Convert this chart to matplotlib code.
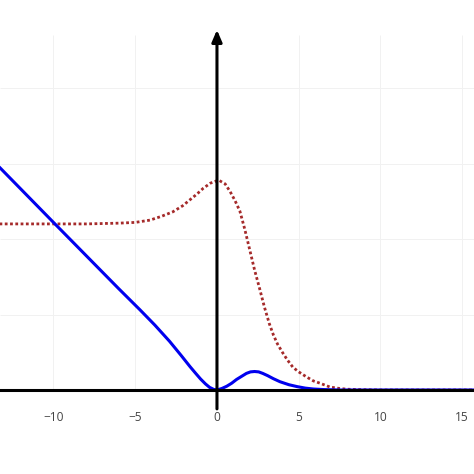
import matplotlib
matplotlib.use('Agg')
import matplotlib.pyplot as plt

# blue curve
x_blue = [-13.3, -10, -8, -6, -4.7, -3.8, -2.9, -2.2, -1.65, -1.3, -1.0, -0.7, -0.45, -0.2, 0,
          0.3, 0.6, 0.9, 1.2, 1.5, 1.8, 2.05, 2.3, 2.55, 2.8, 3.1, 3.45, 3.85, 4.4, 4.9, 5.4, 5.9,
          6.5, 7.5, 9, 12, 16]
y_blue = [2.95, 2.22, 1.78, 1.34, 1.06, 0.86, 0.645, 0.46, 0.31, 0.22, 0.145, 0.08, 0.035, 0.008, 0.0,
          0.02, 0.05, 0.09, 0.14, 0.18, 0.22, 0.24, 0.245, 0.24, 0.22, 0.19, 0.15, 0.11, 0.07, 0.045, 0.025, 0.013,
          0.006, 0.0, 0.0, 0.0, 0.0]

# red dotted curve
x_red = [-13.3, -10, -8, -6, -5, -4.1, -3.4, -2.7, -2.1, -1.65, -1.2, -0.85, -0.4, 0.1,
         0.5, 0.8, 1.1, 1.4, 1.7, 2.0, 2.3, 2.6, 2.9, 3.2, 3.45, 3.7, 4.0, 4.3, 4.65, 5.0, 5.5, 5.9,
         6.3, 6.9, 7.5, 8.0, 9, 10, 12, 16]
y_red = [2.2, 2.2, 2.2, 2.21, 2.22, 2.25, 2.3, 2.36, 2.44, 2.52, 2.6, 2.67, 2.74, 2.78,
         2.73, 2.63, 2.51, 2.37, 2.13, 1.86, 1.59, 1.35, 1.10, 0.88, 0.73, 0.61, 0.50, 0.40, 0.30, 0.24, 0.17, 0.12,
         0.09, 0.04, 0.02, 0.01, 0.004, 0.0, 0.0, 0.0]

x_ticks = [-10, -5, 0, 5, 10, 15]
x_grid = [-10, -5, 5, 10, 15]
y_grid = [1, 2, 3, 4]

fig = plt.figure(figsize=(4.74, 4.74), dpi=100)
ax = fig.add_axes([0, 84 / 474, 1, 390 / 474])
ax.set_xlim(-13.27, 15.72)
ax.set_ylim(0, 5.166)
for s in ax.spines.values():
    s.set_visible(False)

ax.vlines(x_grid, 0, 4.70, colors='#f1f1f1', lw=0.7, zorder=0)
ax.hlines(y_grid, -13.27, 15.72, colors='#f1f1f1', lw=0.7, zorder=0)

ax.plot(x_red, y_red, color='#a52a2a', lw=2.0, linestyle=(0, (1.0, 0.9)), clip_on=False, zorder=3)
ax.plot(x_blue, y_blue, color='#0000ee', lw=2.2, clip_on=False, zorder=4)

# axes lines
ax.axhline(0, color='black', lw=2.2, clip_on=False, zorder=5)
ax.annotate('', xy=(0, 4.77), xytext=(0, -0.25),
            arrowprops=dict(arrowstyle='-|>,head_length=0.7,head_width=0.3', color='black', lw=2.2,
                            shrinkA=0, shrinkB=0),
            annotation_clip=False, zorder=5)

ax.set_xticks(x_ticks)
ax.set_xticklabels(['\u221210', '\u22125', '0', '5', '10', '15'])
ax.tick_params(axis='x', length=0, pad=15, labelsize=8.6, labelcolor='#444444')
for lab in ax.get_xticklabels():
    lab.set_family('Open Sans')
ax.set_yticks([])

fig.savefig('out.png', dpi=100)
